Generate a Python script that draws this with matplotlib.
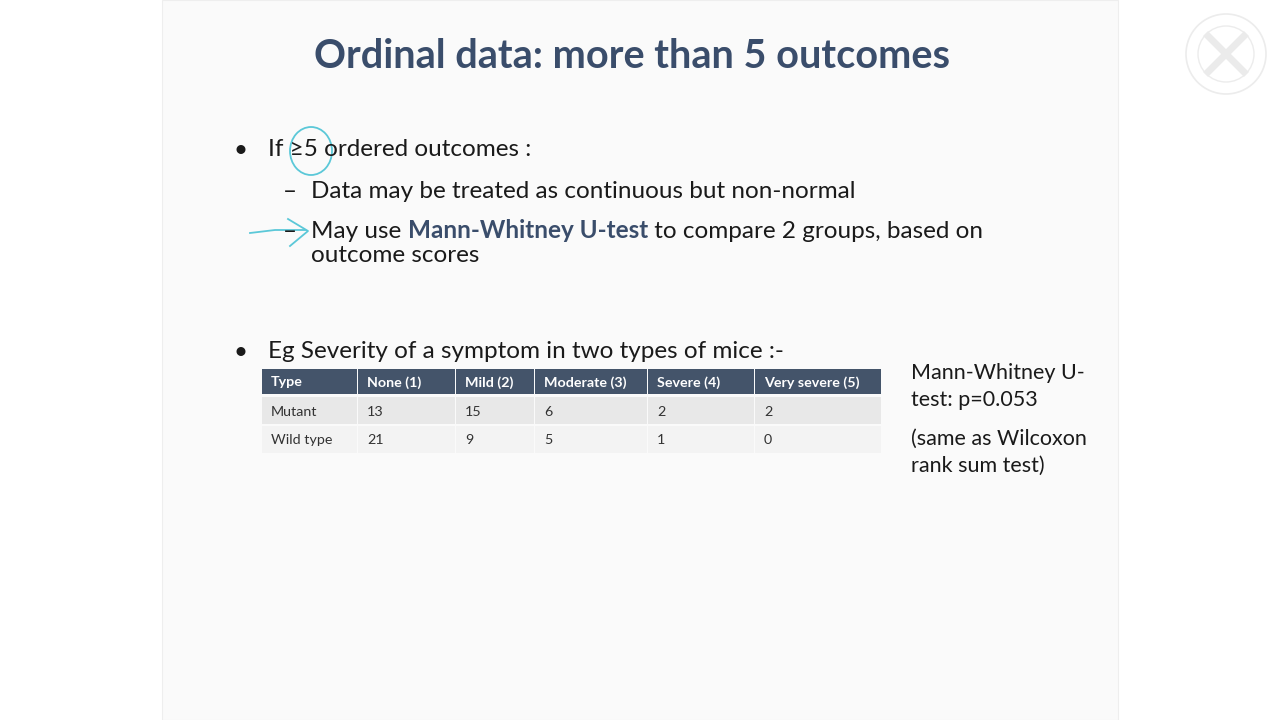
import matplotlib

matplotlib.use("Agg")
import matplotlib.pyplot as plt
from matplotlib.patches import Rectangle, Ellipse, Circle

plt.rcParams["font.family"] = ["Lato", "DejaVu Sans"]

# table data
columns = ["Type", "None (1)", "Mild (2)", "Moderate (3)", "Severe (4)", "Very severe (5)"]
row_names = ["Mutant", "Wild type"]
mutant = [13, 15, 6, 2, 2]
wild_type = [21, 9, 5, 1, 0]

col_edges = [262, 358, 456, 535, 648, 755, 882]
row_tops = [369, 397, 426]
row_h = [25, 27, 27]
row_fill = ["#44546a", "#e8e8e8", "#f3f3f3"]

TITLE = "#3a4d6b"
TEXT = "#1a1a1a"
CYAN = "#5bc8d8"

fig = plt.figure(figsize=(12.8, 7.2), dpi=100)
ax = fig.add_axes([0, 0, 1, 1])
ax.set_xlim(0, 1280)
ax.set_ylim(720, 0)
ax.axis("off")
fig.patch.set_facecolor("white")
renderer = fig.canvas.get_renderer()


def inline(x, y, parts, size):
    """Draw text pieces one after another on a line."""
    for s, kw in parts:
        t = ax.text(x, y, s, fontsize=size, va="center", **kw)
        bb = t.get_window_extent(renderer)
        x += bb.width


# slide area
ax.add_patch(Rectangle((162, 0), 956, 720, facecolor="#fafafa", edgecolor="#eeeeee", lw=0.8))

ax.text(632, 57, "Ordinal data: more than 5 outcomes", fontsize=28.5, fontweight="bold",
        color=TITLE, ha="center", va="center")

# faint logo
ax.add_patch(Circle((1226, 54), 40, facecolor="none", edgecolor="#ececec", lw=1.2))
ax.add_patch(Circle((1226, 54), 28, facecolor="none", edgecolor="#ececec", lw=1.0))
ax.plot([1208, 1244], [36, 72], color="#ebebeb", lw=5)
ax.plot([1208, 1244], [72, 36], color="#ebebeb", lw=5)

body = 17.5
ax.text(233, 150, "•", fontsize=body, color=TEXT, va="center")
ax.text(268, 150, "If ≥5 ordered outcomes :", fontsize=body, color=TEXT, va="center")
ax.add_patch(Ellipse((311, 151), 42, 48, facecolor="none", edgecolor=CYAN, lw=1.3))
ax.text(283, 191, "–", fontsize=body, color=TEXT, va="center")
ax.text(311, 191, "Data may be treated as continuous but non-normal", fontsize=body, color=TEXT, va="center")
ax.text(283, 231, "–", fontsize=body, color=TEXT, va="center")
inline(311, 231, [("May use ", dict(color=TEXT)),
                  ("Mann-Whitney U-test", dict(color=TITLE, fontweight="bold")),
                  (" to compare 2 groups, based on", dict(color=TEXT))], body)
ax.text(311, 256, "outcome scores", fontsize=body, color=TEXT, va="center")
# hand-drawn arrow
ax.plot([250, 275, 305], [233, 230, 230], color=CYAN, lw=1.3)
ax.plot([288, 308, 290], [219, 231, 246], color=CYAN, lw=1.3)

ax.text(233, 352, "•", fontsize=body, color=TEXT, va="center")
ax.text(268, 352, "Eg Severity of a symptom in two types of mice :-", fontsize=body, color=TEXT, va="center")

rows = [columns, [row_names[0]] + [str(v) for v in mutant], [row_names[1]] + [str(v) for v in wild_type]]
for r, cells in enumerate(rows):
    for c, label in enumerate(cells):
        x0, x1 = col_edges[c], col_edges[c + 1]
        ax.add_patch(Rectangle((x0, row_tops[r]), x1 - x0 - 1.5, row_h[r], facecolor=row_fill[r], edgecolor="none"))
        ax.text(x0 + 9, row_tops[r] + row_h[r] / 2 + 1, label, fontsize=10.3,
                color="white" if r == 0 else "#333333", fontweight="bold" if r == 0 else "normal",
                ha="left", va="center")

side = 15.5
ax.text(911, 373, "Mann-Whitney U-", fontsize=side, color=TEXT, va="center")
ax.text(911, 400, "test: p=0.053", fontsize=side, color=TEXT, va="center")
ax.text(911, 439, "(same as Wilcoxon", fontsize=side, color=TEXT, va="center")
ax.text(911, 466, "rank sum test)", fontsize=side, color=TEXT, va="center")

fig.savefig("out.png", dpi=100)
